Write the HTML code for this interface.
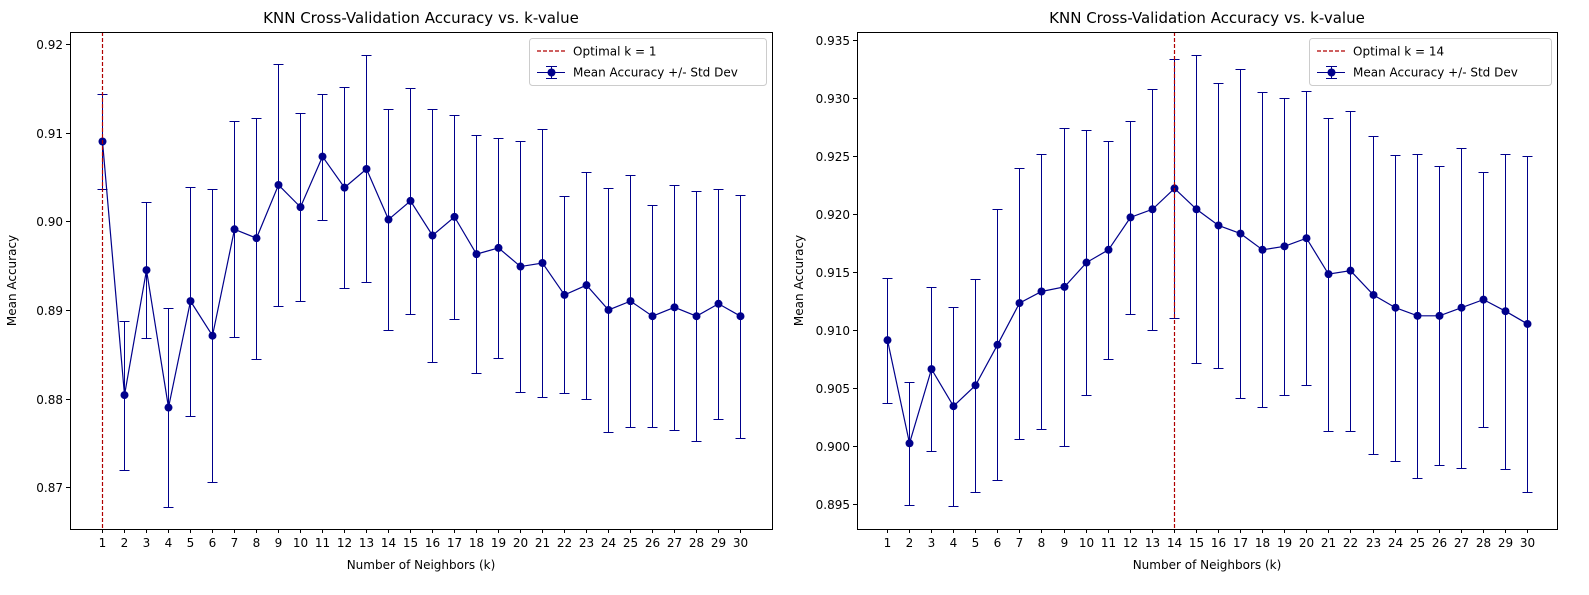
<!DOCTYPE html>
<html><head><meta charset="utf-8">
<style>
body{margin:0;background:#fff;font-family:"Liberation Sans","DejaVu Sans",sans-serif;}
svg text{font-family:"DejaVu Sans","Liberation Sans",sans-serif;}
</style></head>
<body>
<svg id="chart" width="1589" height="590" xmlns="http://www.w3.org/2000/svg"></svg>
<script>
const kValues=[1,2,3,4,5,6,7,8,9,10,11,12,13,14,15,16,17,18,19,20,21,22,23,24,25,26,27,28,29,30];
const meanLeft=[0.9090,0.8804,0.8945,0.8790,0.8910,0.8871,0.8991,0.8981,0.9041,0.9016,0.9073,0.9038,0.9059,0.9002,0.9023,0.8984,0.9005,0.8963,0.8970,0.8949,0.8953,0.8917,0.8928,0.8900,0.8910,0.8893,0.8903,0.8893,0.8907,0.8893];
const stdLeft=[0.0054,0.0084,0.0077,0.0112,0.0129,0.0165,0.0122,0.0136,0.0136,0.0106,0.0071,0.0113,0.0128,0.0125,0.0127,0.0143,0.0115,0.0134,0.0124,0.0142,0.0151,0.0111,0.0128,0.0138,0.0142,0.0125,0.0138,0.0141,0.0130,0.0137];
const meanRight=[0.9091,0.9002,0.9066,0.9034,0.9052,0.9087,0.9123,0.9133,0.9137,0.9158,0.9169,0.9197,0.9204,0.9222,0.9204,0.9190,0.9183,0.9169,0.9172,0.9179,0.9148,0.9151,0.9130,0.9119,0.9112,0.9112,0.9119,0.9126,0.9116,0.9105];
const stdRight=[0.0054,0.0053,0.0071,0.0086,0.0092,0.0117,0.0117,0.0119,0.0137,0.0114,0.0094,0.0083,0.0104,0.0112,0.0133,0.0123,0.0142,0.0136,0.0128,0.0127,0.0135,0.0138,0.0137,0.0132,0.0140,0.0129,0.0138,0.0110,0.0136,0.0145];
const yTicksLeft=[0.87,0.88,0.89,0.90,0.91,0.92];
const yTickLabelsLeft=["0.87","0.88","0.89","0.90","0.91","0.92"];
const yTicksRight=[0.895,0.900,0.905,0.910,0.915,0.920,0.925,0.930,0.935];
const yTickLabelsRight=["0.895","0.900","0.905","0.910","0.915","0.920","0.925","0.930","0.935"];
const optimalLeft=1, optimalRight=14;

const NS="http://www.w3.org/2000/svg";
const svg=document.getElementById('chart');
function mk(tag,attrs,parent){const e=document.createElementNS(NS,tag);for(const k in attrs)e.setAttribute(k,attrs[k]);(parent||svg).appendChild(e);return e;}

function panel(p){
  const g=mk('g',{});
  
  
  const L=p.left,R=p.right,T=32,B=529;
  const xs=k=>Math.round(p.x1+(k-1)*(p.x30-p.x1)/29)+0.5;
  const ys=v=>T+(p.ymax-v)/(p.ymax-p.ymin)*(B-T);
  const t=mk('text',{x:(L+R)/2,y:23,'text-anchor':'middle','font-size':15,fill:'#000'},g);
  t.textContent='KNN Cross-Validation Accuracy vs. k-value';
  
  p.yt.forEach((v,i)=>{const y=Math.round(ys(v))+0.5;
    mk('line',{x1:L-4,x2:L,y1:y,y2:y,stroke:'#000','stroke-width':1},g);
    const tx=mk('text',{x:L-7,y:y+4.5,'text-anchor':'end','font-size':12},g);tx.textContent=p.ytl[i];
    });
  kValues.forEach(k=>{const x=xs(k);
    mk('line',{x1:x,x2:x,y1:B,y2:B+4,stroke:'#000','stroke-width':1},g);
    const tx=mk('text',{x:x,y:B+18,'text-anchor':'middle','font-size':12},g);tx.textContent=k;
    });
  const xl=mk('text',{x:(L+R)/2,y:569,'text-anchor':'middle','font-size':12},g);xl.textContent='Number of Neighbors (k)';
  
  const yl=mk('text',{x:0,y:0,'text-anchor':'middle','font-size':12,transform:`translate(${L-54},${(T+B)/2}) rotate(-90)`},g);yl.textContent='Mean Accuracy';
  
  kValues.forEach((k,i)=>{const x=xs(k),y1=Math.round(ys(p.mean[i]+p.std[i]))+0.5,y2=Math.round(ys(p.mean[i]-p.std[i]))+0.5;
    const eb=mk('path',{d:`M${x},${y1}V${y2}M${x-5},${y1}H${x+5}M${x-5},${y2}H${x+5}`,stroke:'#00008b','stroke-width':1,fill:'none'},g);
    });
  const line=mk('polyline',{points:kValues.map((k,i)=>xs(k)+','+ys(p.mean[i])).join(' '),fill:'none',stroke:'#00008b','stroke-width':1.2},g);
  
  kValues.forEach((k,i)=>{const c=mk('circle',{cx:xs(k),cy:ys(p.mean[i]),r:4,fill:'#00008b'},g);
    });
  const ox=xs(p.opt);
  const ol=mk('line',{x1:ox,x2:ox,y1:T,y2:B,stroke:'#b00000','stroke-width':1.2,'stroke-dasharray':'4,2'},g);
  
  mk('rect',{x:L+0.5,y:T+0.5,width:R-L,height:B-T,fill:'none',stroke:'#000','stroke-width':1},g);
  const lg=mk('g',{},g);
  const lx=p.legX,lw=R-6-lx;
  mk('rect',{x:lx+0.5,y:38.5,width:lw,height:47,rx:3,fill:'#fff','fill-opacity':0.8,stroke:'#ccc'},lg);
  mk('line',{x1:lx+8,x2:lx+36,y1:51,y2:51,stroke:'#b00000','stroke-width':1.2,'stroke-dasharray':'4,2'},lg);
  const t1=mk('text',{x:lx+44,y:55.5,'font-size':12},lg);t1.textContent='Optimal k = '+p.opt;
  
  mk('path',{d:`M${lx+8},72.5H${lx+36}M${lx+22.5},66V79M${lx+17},66.5H${lx+28}M${lx+17},78.5H${lx+28}`,stroke:'#00008b','stroke-width':1},lg);
  mk('circle',{cx:lx+22.5,cy:72.5,r:4,fill:'#00008b'},lg);
  const t2=mk('text',{x:lx+44,y:76.5,'font-size':12},lg);t2.textContent='Mean Accuracy +/- Std Dev';
  
}
panel({name:'left-panel',left:70,right:772,x1:102,x30:740,ymax:0.92135,ymin:0.8653,mean:meanLeft,std:stdLeft,yt:yTicksLeft,ytl:yTickLabelsLeft,opt:optimalLeft,legX:529});
panel({name:'right-panel',left:857,right:1557,x1:887,x30:1527,ymax:0.9357,ymin:0.8928,mean:meanRight,std:stdRight,yt:yTicksRight,ytl:yTickLabelsRight,opt:optimalRight,legX:1309});
</script>
</body></html>
